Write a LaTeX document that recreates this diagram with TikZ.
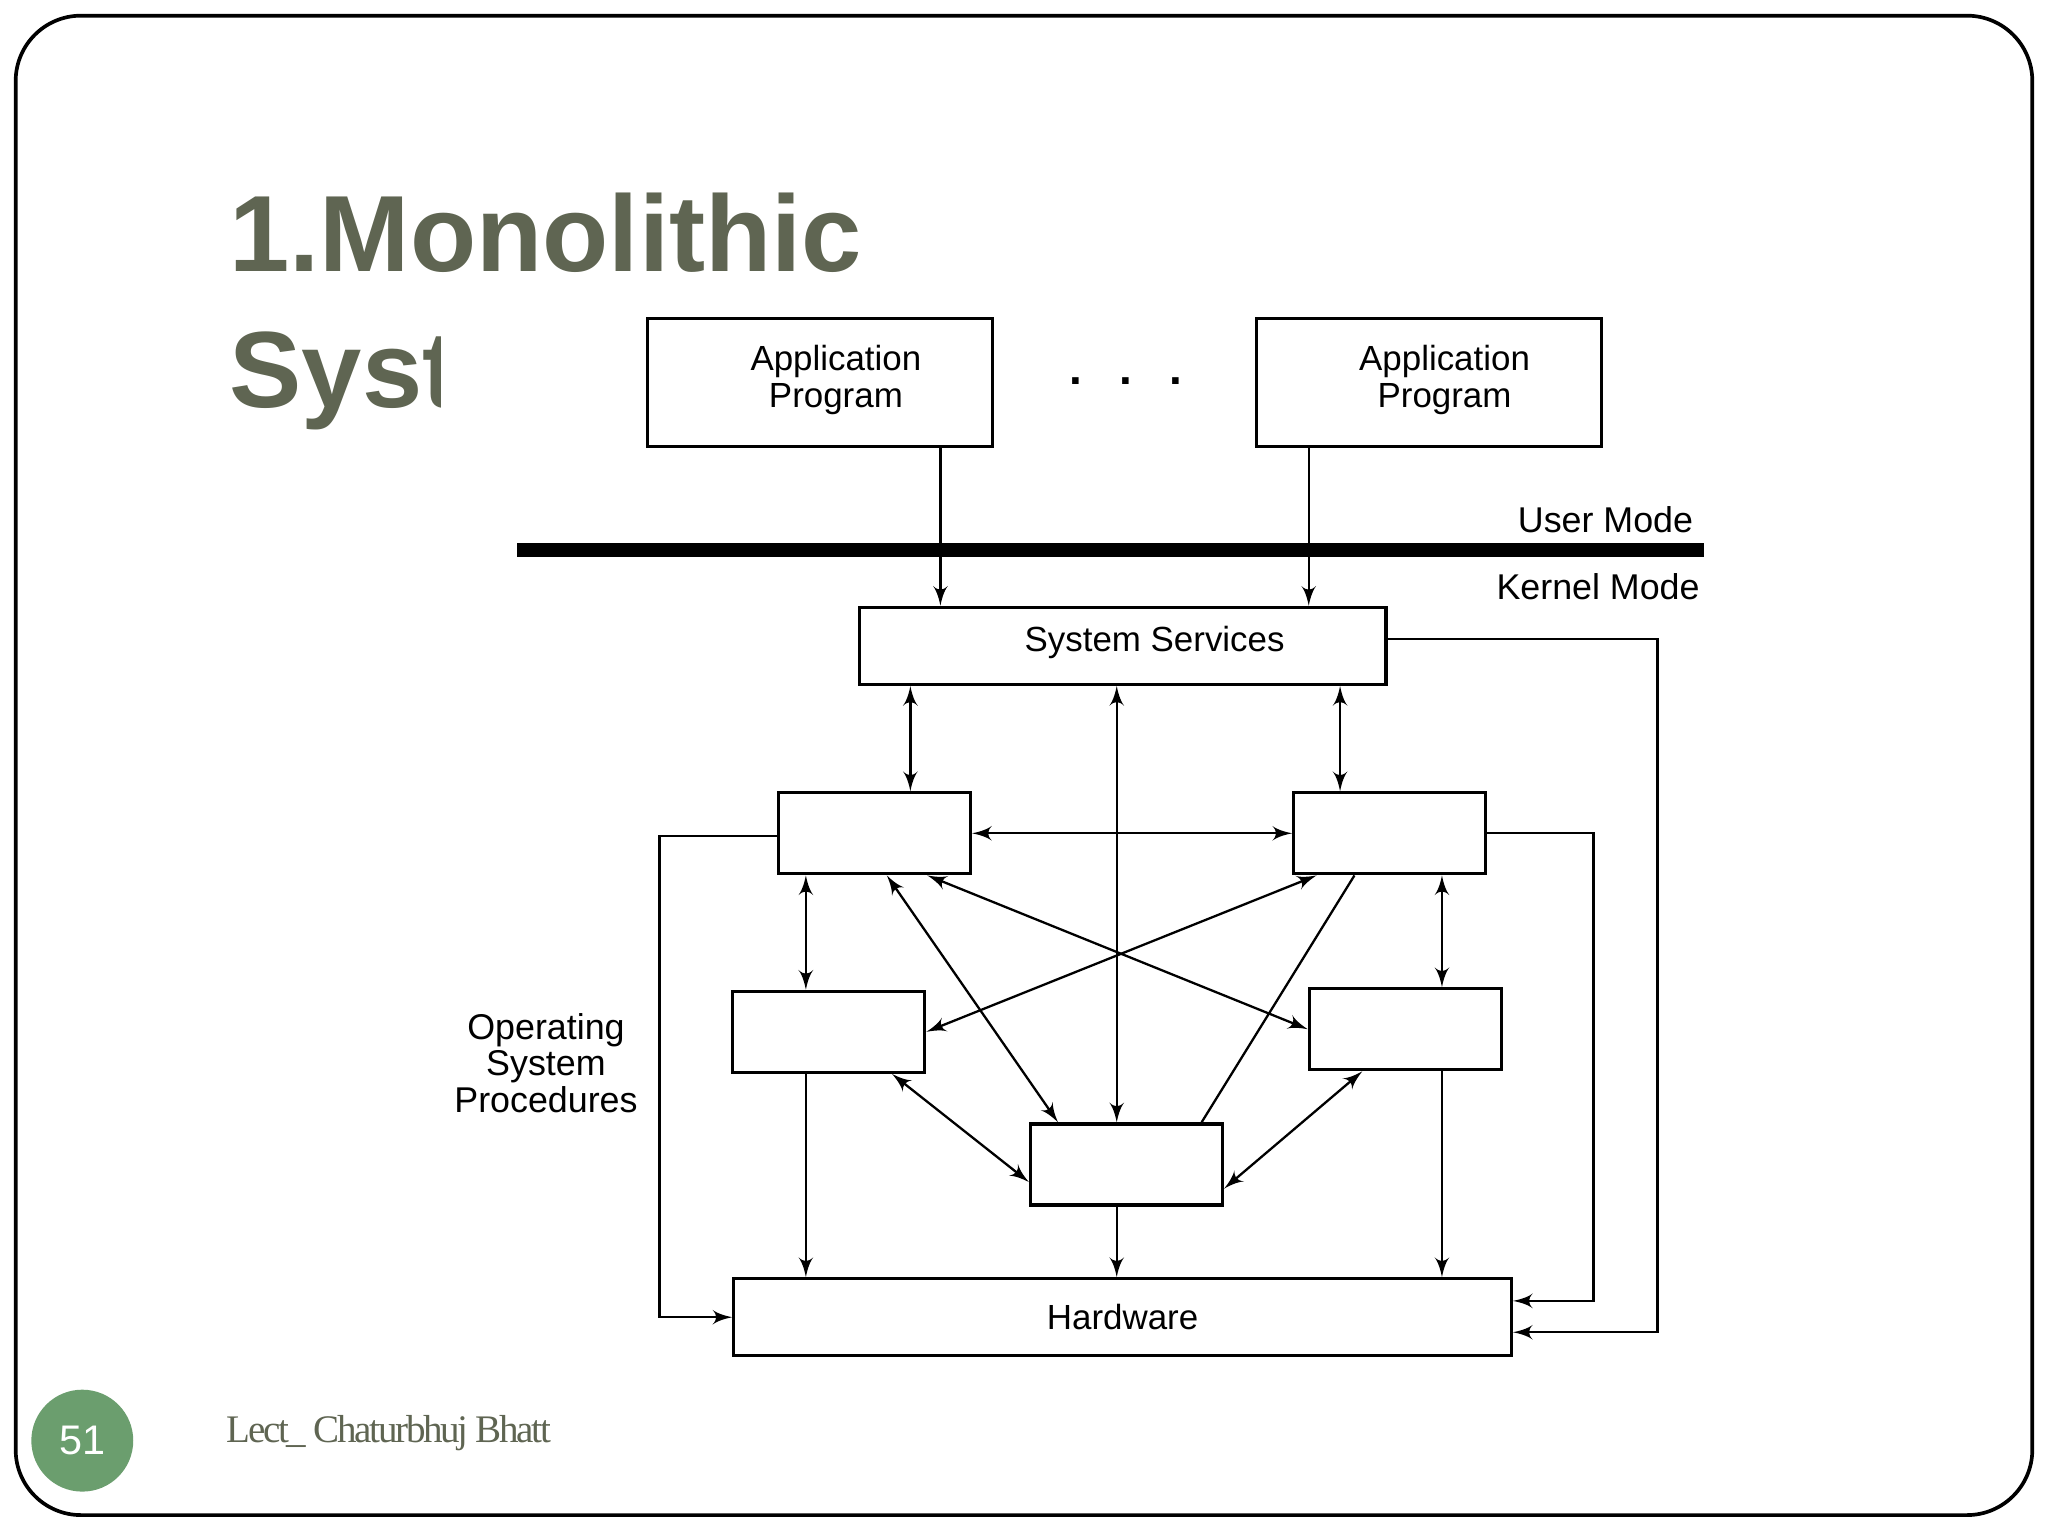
\documentclass[tikz,border=0pt]{standalone}
\usepackage{fontspec}
\setmainfont{Liberation Sans}
\newfontfamily\footfont{Liberation Serif}
\usetikzlibrary{positioning,arrows,calc}
\definecolor{titlegray}{HTML}{5F6552}
\definecolor{slidegreen}{HTML}{6B9E6E}
\tikzset{
    box/.style = {
        draw,
        shape=rectangle,
        inner sep=0pt,
        line width=0.7pt,
        fill=white,
        font=\fontsize{7.6}{8.2}\selectfont,
        align=center
    },
    proc/.style = {
        box,
        minimum width=1.47cm,
        minimum height=0.62cm
    },
    link/.style = {draw, line width=0.5pt},
    >=latex',
}
\begin{document}
\begin{tikzpicture}[x=0.01cm,y=-0.01cm]
    \useasboundingbox (0,0) rectangle (1568,1176);
    \draw[line width=0.8pt, rounded corners=0.5cm] (12,12) rectangle (1556,1160);

    % title, partly hidden by the diagram
    \node[anchor=base west, inner sep=0pt, text=titlegray, font=\fontsize{23.6}{24}\bfseries] (title) at (175,208) {1.Monolithic};
    \node[anchor=base west, inner sep=0pt, text=titlegray, font=\fontsize{23.6}{24}\bfseries] (title2) at (175,312) {Systems};
    \fill[white] (338,236) rectangle (1320,1062);

    % user programs
    \node[box, minimum width=2.64cm, minimum height=0.98cm] (app1) at (628,293) {};
    \node[box, minimum width=2.64cm, minimum height=0.98cm] (app2) at (1094,293) {};
    \node[align=center, inner sep=0pt, font=\fontsize{7.6}{8.2}\selectfont] (app1t) at (640,291) {Application\\Program};
    \node[align=center, inner sep=0pt, font=\fontsize{7.6}{8.2}\selectfont] (app2t) at (1106,291) {Application\\Program};
    \node[font=\bfseries] (dots) at (862,292) {.\hspace{0.8em}.\hspace{0.8em}.};

    \coordinate (lineL) at (396,421);
    \coordinate (lineR) at (1305,421);
    \draw[line width=3pt] (lineL) -- (lineR);
    \node[anchor=east, inner sep=0pt, font=\fontsize{7.8}{8}\selectfont] (user) at (1297,398) {User Mode};
    \node[anchor=east, inner sep=0pt, font=\fontsize{7.8}{8}\selectfont] (kernel) at (1302,449) {Kernel Mode};

    % kernel
    \node[box, minimum width=4.03cm, minimum height=0.59cm] (ss) at (859.5,494.5) {};
    \node[inner sep=0pt, font=\fontsize{7.6}{8.2}\selectfont] (sst) at (884,492) {System Services};
    \node[proc] (pa) at (669.5,638) {};
    \node[proc] (pb) at (1064,638) {};
    \node[proc] (pc) at (634.5,790) {};
    \node[proc] (pd) at (1076,788) {};
    \node[proc] (pe) at (862.5,891.5) {};
    \node[box, minimum width=5.95cm, minimum height=0.59cm] (hw) at (859.5,1008.5) {Hardware};
    \node[align=center, font=\fontsize{7.8}{7.9}\selectfont] (osp) at (418,814) {Operating\\System\\Procedures};

    \path[link, ->] (app1.south -| 720,0) -- (ss.north -| 720,0);
    \path[link, ->] (app2.south -| 1002,0) -- (ss.north -| 1002,0);

    \path[link, <->] (ss.south -| 697,0) -- (pa.north -| 697,0);
    \path[link, <->] (ss.south -| 1026,0) -- (pb.north -| 1026,0);
    \path[link, <->] (ss.south -| 855,0) -- (pe.north -| 855,0);
    \path[link, <->] (pa.east) -- (pb.west);
    \path[link, <->] (pa.south -| 617,0) -- (pc.north -| 617,0);
    \path[link, <->] (pb.south -| 1104,0) -- (pd.north -| 1104,0);
    \path[link, <->] (pa.south -| 710,0) -- (pd.west);
    \path[link, <->] (pb.south -| 1008,0) -- (pc.east);
    \path[link, <->] (pa.south -| 679,0) -- (pe.north -| 810,0);
    \path[link] (pb.south -| 1037,0) -- (pe.north -| 920,0);
    \path[link, <->] (pc.south -| 683,0) -- (pe.west |- 0,905);
    \path[link, <->] (pd.south -| 1043,0) -- (pe.east |- 0,910);

    \path[link, ->] (pc.south -| 617,0) -- (hw.north -| 617,0);
    \path[link, ->] (pe.south -| 855,0) -- (hw.north -| 855,0);
    \path[link, ->] (pd.south -| 1104,0) -- (hw.north -| 1104,0);

    \coordinate (leftbus) at (505,640);
    \coordinate (rightbus) at (1220,638);
    \coordinate (ssbus) at (1269,489);
    \path[link, ->] (pa.west |- leftbus) -- (leftbus) |- (hw.west);
    \path[link, ->] (pb.east |- rightbus) -- (rightbus) |- (hw.east |- 0,996);
    \path[link, ->] (ss.east |- ssbus) -- (ssbus) |- (hw.east |- 0,1020);

    % footer
    \node[circle, fill=slidegreen, minimum size=0.78cm, text=white, font=\fontsize{9}{9}\selectfont] (page) at (63,1103) {51};
    \node[anchor=west, inner sep=0pt, text=titlegray, font=\footfont\fontsize{8.5}{9}\selectfont] (lect) at (173,1097) {\addfontfeature{LetterSpace=-6}Lect\_ Chaturbhuj Bhatt};
\end{tikzpicture}
\end{document}
